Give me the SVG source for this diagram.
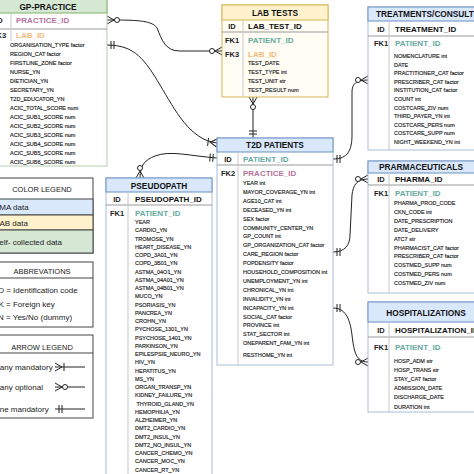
<svg xmlns="http://www.w3.org/2000/svg" width="474" height="474" viewBox="0 0 474 474">
<style>
text{font-family:"Liberation Sans",Arial,sans-serif}
.hdr{font-size:8.3px;font-weight:bold;fill:#111;text-anchor:middle}
.key{font-size:8px;font-weight:bold;fill:#111}
.lbl{font-size:7.5px;font-weight:bold;fill:#222;text-anchor:middle}
.att{font-size:5.5px;fill:#1a1a1a;stroke:#1a1a1a;stroke-width:0.15}
.pid{fill:#67ab9f}.prid{fill:#b5739d}.lid{fill:#f5b97c}
.leg{font-size:8px;fill:#222}
.legh{font-size:7.5px;fill:#222;text-anchor:middle}
.body{fill:#fff;stroke:#a8bcd8;stroke-width:1}
.hb{fill:#dae8fc;stroke:#6c8ebf;stroke-width:1}
.sep{stroke:#999;stroke-width:1}
.col{stroke:#c8c8c8;stroke-width:1}
.lbox{fill:#fff;stroke:#444;stroke-width:1}
.conn{fill:none;stroke:#222;stroke-width:1}
</style>
<defs>
<marker id="mo" viewBox="-16 -6 18 12" refX="0" refY="0" markerWidth="18" markerHeight="12" markerUnits="userSpaceOnUse" orient="auto-start-reverse">
<path d="M0,-4 L-7,0 L0,4" fill="none" stroke="#222"/>
<circle cx="-10" cy="0" r="2.5" fill="#fff" stroke="#222"/>
</marker>
<marker id="om" viewBox="-16 -6 18 12" refX="0" refY="0" markerWidth="18" markerHeight="12" markerUnits="userSpaceOnUse" orient="auto-start-reverse">
<path d="M-4,-4 V4 M-7,-4 V4" fill="none" stroke="#222"/>
</marker>
<marker id="mm" viewBox="-16 -6 18 12" refX="0" refY="0" markerWidth="18" markerHeight="12" markerUnits="userSpaceOnUse" orient="auto-start-reverse">
<path d="M0,-4 L-7,0 L0,4 M-9,-4 V4" fill="none" stroke="#222"/>
</marker>
</defs>

<g id="connectors">
<path class="conn" d="M107,20 C135,20 152,20 157,28 C162,40 165,51 180,51 L222,51" marker-start="url(#mo)" marker-end="url(#mo)"/>
<path class="conn" d="M107,45 C135,45 145,60 160,85 C175,110 190,140 217,143" marker-start="url(#om)" marker-end="url(#mm)"/>
<path class="conn" d="M253,97 L253,138" marker-start="url(#mo)" marker-end="url(#om)"/>
<path class="conn" d="M217,158 C190,156 170,150 155,156 C145,160 140,165 140,178" marker-start="url(#om)" marker-end="url(#mo)"/>
<path class="conn" d="M333,159 C348,159 352,150 352,135 L352,92 C352,84 356,80 368,80" marker-start="url(#om)" marker-end="url(#mo)"/>
<path class="conn" d="M333,252 C345,252 350,245 350,235 L352,195 C353,185 357,179 368,179" marker-start="url(#om)" marker-end="url(#mo)"/>
<path class="conn" d="M333,308 C345,308 350,318 352,335 C354,352 356,362 368,362" marker-start="url(#om)" marker-end="url(#mo)"/>
</g>

<g id="gp-practice">
<rect x="-10" y="-3" width="117" height="169" fill="#fff" stroke="#b7cfae"/>
<rect x="-10" y="-3" width="117" height="16" fill="#d5e8d4" stroke="#82b366"/>
<text class="hdr" x="48" y="10">GP-PRACTICE</text>
<line class="sep" x1="-10" y1="29" x2="107" y2="29"/>
<line class="col" x1="11" y1="13" x2="11" y2="41"/>
<text class="lbl" x="-1" y="23">ID</text>
<text class="key prid" x="16" y="23">PRACTICE_ID</text>
<text class="lbl" x="-1" y="38">FK3</text>
<text class="key lid" x="16" y="38">LAB_ID</text>
<text class="att" x="10" y="47">ORGANISATION_TYPE factor</text>
<text class="att" x="10" y="56">REGION_CAT factor</text>
<text class="att" x="10" y="65">FIRSTLINE_ZONE factor</text>
<text class="att" x="10" y="74">NURSE_YN</text>
<text class="att" x="10" y="83">DIETICIAN_YN</text>
<text class="att" x="10" y="92">SECRETARY_YN</text>
<text class="att" x="10" y="101">T2D_EDUCATOR_YN</text>
<text class="att" x="10" y="110">ACIC_TOTAL_SCORE num</text>
<text class="att" x="10" y="119">ACIC_SUB1_SCORE num</text>
<text class="att" x="10" y="128">ACIC_SUB2_SCORE num</text>
<text class="att" x="10" y="137">ACIC_SUB3_SCORE num</text>
<text class="att" x="10" y="146">ACIC_SUB4_SCORE num</text>
<text class="att" x="10" y="155">ACIC_SUB5_SCORE num</text>
<text class="att" x="10" y="164">ACIC_SUB6_SCORE num</text>
</g>

<g id="lab-tests">
<rect x="222" y="5" width="106" height="92" fill="#fffdf4" stroke="#d6b656"/>
<rect x="222" y="5" width="106" height="15" fill="#fff2cc" stroke="#d6b656"/>
<text class="hdr" x="275" y="16">LAB TESTS</text>
<line class="sep" x1="222" y1="32" x2="328" y2="32"/>
<line class="col" x1="243" y1="20" x2="243" y2="97"/>
<text class="lbl" x="232" y="29">ID</text>
<text class="key" x="248" y="29">LAB_TEST_ID</text>
<text class="lbl" x="232" y="43">FK1</text>
<text class="key pid" x="248" y="43">PATIENT_ID</text>
<text class="lbl" x="232" y="57">FK3</text>
<text class="key lid" x="248" y="57">LAB_ID</text>
<text class="att" x="248" y="65">TEST_DATE</text>
<text class="att" x="248" y="74">TEST_TYPE int</text>
<text class="att" x="248" y="83">TEST_UNIT str</text>
<text class="att" x="248" y="92">TEST_RESULT num</text>
</g>

<g id="t2d-patients">
<rect class="body" x="217" y="138" width="116" height="227"/>
<rect class="hb" x="217" y="138" width="116" height="14"/>
<text class="hdr" x="275" y="148">T2D PATIENTS</text>
<line class="sep" x1="217" y1="165" x2="333" y2="165"/>
<line class="col" x1="238" y1="152" x2="238" y2="365"/>
<text class="lbl" x="228" y="162">ID</text>
<text class="key pid" x="243" y="162">PATIENT_ID</text>
<text class="lbl" x="228" y="176">FK2</text>
<text class="key prid" x="243" y="176">PRACTICE_ID</text>
<text class="att" x="243" y="185">YEAR int</text>
<text class="att" x="243" y="193.9">MAYOR_COVERAGE_YN int</text>
<text class="att" x="243" y="202.8">AGE10_CAT int</text>
<text class="att" x="243" y="211.7">DECEASED_YN int</text>
<text class="att" x="243" y="220.6">SEX factor</text>
<text class="att" x="243" y="229.5">COMMUNITY_CENTER_YN</text>
<text class="att" x="243" y="238.4">GP_COUNT int</text>
<text class="att" x="243" y="247.3">GP_ORGANIZATION_CAT factor</text>
<text class="att" x="243" y="256.2">CARE_REGION factor</text>
<text class="att" x="243" y="265.1">POPDENSITY factor</text>
<text class="att" x="243" y="274">HOUSEHOLD_COMPOSITION int</text>
<text class="att" x="243" y="282.9">UNEMPLOYMENT_YN int</text>
<text class="att" x="243" y="291.8">CHRONICAL_YN int</text>
<text class="att" x="243" y="300.7">INVALIDITY_YN int</text>
<text class="att" x="243" y="309.6">INCAPACITY_YN int</text>
<text class="att" x="243" y="318.5">SOCIAL_CAT factor</text>
<text class="att" x="243" y="327.4">PROVINCE int</text>
<text class="att" x="243" y="336.3">STAT_SECTOR int</text>
<text class="att" x="243" y="345.2">ONEPARENT_FAM_YN int</text>
<text class="att" x="243" y="357">RESTHOME_YN int</text>
</g>

<g id="treatments">
<rect class="body" x="368" y="7" width="120" height="143"/>
<rect class="hb" x="368" y="7" width="120" height="14"/>
<text class="hdr" x="376" y="17" style="text-anchor:start">TREATMENTS/CONSULTS</text>
<line class="sep" x1="368" y1="36" x2="488" y2="36"/>
<line class="col" x1="389" y1="21" x2="389" y2="150"/>
<text class="lbl" x="381" y="32">ID</text>
<text class="key" x="395" y="32">TREATMENT_ID</text>
<text class="lbl" x="381" y="46">FK1</text>
<text class="key pid" x="395" y="46">PATIENT_ID</text>
<text class="att" x="394" y="58">NOMENCLATURE int</text>
<text class="att" x="394" y="66.6">DATE</text>
<text class="att" x="394" y="75.2">PRACTITIONER_CAT factor</text>
<text class="att" x="394" y="83.8">PRESCRIBER_CAT factor</text>
<text class="att" x="394" y="92.4">INSTITUTION_CAT factor</text>
<text class="att" x="394" y="101">COUNT int</text>
<text class="att" x="394" y="109.6">COSTCARE_ZIV num</text>
<text class="att" x="394" y="118.2">THIRD_PAYER_YN int</text>
<text class="att" x="394" y="126.8">COSTCARE_PERS num</text>
<text class="att" x="394" y="135.4">COSTCARE_SUPP num</text>
<text class="att" x="394" y="144">NIGHT_WEEKEND_YN int</text>
</g>

<g id="pharmaceuticals">
<rect class="body" x="368" y="161" width="120" height="132"/>
<rect class="hb" x="368" y="161" width="120" height="12"/>
<text class="hdr" x="421" y="170">PRARMACEUTICALS</text>
<line class="sep" x1="368" y1="185" x2="488" y2="185"/>
<line class="col" x1="389" y1="173" x2="389" y2="293"/>
<text class="lbl" x="381" y="182">ID</text>
<text class="key" x="395" y="182">PHARMA_ID</text>
<text class="lbl" x="381" y="196">FK1</text>
<text class="key pid" x="395" y="196">PATIENT_ID</text>
<text class="att" x="394" y="205">PHARMA_PROD_CODE</text>
<text class="att" x="394" y="213.9">CKN_CODE int</text>
<text class="att" x="394" y="222.8">DATE_PRESCRIPTION</text>
<text class="att" x="394" y="231.7">DATE_DELIVERY</text>
<text class="att" x="394" y="240.6">ATC7 str</text>
<text class="att" x="394" y="249.5">PHARMACIST_CAT factor</text>
<text class="att" x="394" y="258.4">PRESCRIBER_CAT factor</text>
<text class="att" x="394" y="267.3">COSTMED_SUPP num</text>
<text class="att" x="394" y="276.2">COSTMED_PERS num</text>
<text class="att" x="394" y="285.1">COSTMED_ZIV num</text>
</g>

<g id="hospitalizations">
<rect class="body" x="368" y="302" width="120" height="110"/>
<rect class="hb" x="368" y="302" width="120" height="20"/>
<text class="hdr" x="426" y="316">HOSPITALIZATIONS</text>
<line class="sep" x1="368" y1="337" x2="488" y2="337"/>
<line class="col" x1="389" y1="322" x2="389" y2="412"/>
<text class="lbl" x="381" y="333">ID</text>
<text class="key" x="395" y="333">HOSPITALIZATION_ID</text>
<text class="lbl" x="381" y="350">FK1</text>
<text class="key pid" x="395" y="350">PATIENT_ID</text>
<text class="att" x="394" y="363">HOSP_ADM str</text>
<text class="att" x="394" y="372.1">HOSP_TRANS str</text>
<text class="att" x="394" y="381.2">STAY_CAT factor</text>
<text class="att" x="394" y="390.3">ADMISSION_DATE</text>
<text class="att" x="394" y="399.4">DISCHARGE_DATE</text>
<text class="att" x="394" y="408.5">DURATION int</text>
</g>

<g id="pseudopath">
<rect class="body" x="106" y="178" width="106" height="300"/>
<rect class="hb" x="106" y="178" width="106" height="14"/>
<text class="hdr" x="159" y="189">PSEUDOPATH</text>
<line class="sep" x1="106" y1="205" x2="212" y2="205"/>
<line class="col" x1="128" y1="192" x2="128" y2="478"/>
<text class="lbl" x="117" y="202">ID</text>
<text class="key" x="135" y="202">PSEUDOPATH_ID</text>
<text class="lbl" x="117" y="216">FK1</text>
<text class="key pid" x="135" y="216">PATIENT_ID</text>
<text class="att" x="135" y="224">YEAR</text>
<text class="att" x="135" y="232.25">CARDIO_YN</text>
<text class="att" x="135" y="240.5">TROMOSE_YN</text>
<text class="att" x="135" y="248.75">HEART_DISEASE_YN</text>
<text class="att" x="135" y="257">COPD_3A01_YN</text>
<text class="att" x="135" y="265.25">COPD_3B01_YN</text>
<text class="att" x="135" y="273.5">ASTMA_04O1_YN</text>
<text class="att" x="135" y="281.75">ASTMA_04A01_YN</text>
<text class="att" x="135" y="290">ASTMA_04B01_YN</text>
<text class="att" x="135" y="298.25">MUCO_YN</text>
<text class="att" x="135" y="306.5">PSORIASIS_YN</text>
<text class="att" x="135" y="314.75">PANCREA_YN</text>
<text class="att" x="135" y="323">CROHN_YN</text>
<text class="att" x="135" y="331.25">PYCHOSE_1301_YN</text>
<text class="att" x="135" y="339.5">PSYCHOSE_1401_YN</text>
<text class="att" x="135" y="347.75">PARKINSON_YN</text>
<text class="att" x="135" y="356">EPILESPSIE_NEURO_YN</text>
<text class="att" x="135" y="364.25">HIV_YN</text>
<text class="att" x="135" y="372.5">HEPATITUS_YN</text>
<text class="att" x="135" y="380.75">MS_YN</text>
<text class="att" x="135" y="389">ORGAN_TRANSP_YN</text>
<text class="att" x="135" y="397.25">KIDNEY_FAILURE_YN</text>
<text class="att" x="136.5" y="405.5">THYROID_GLAND_YN</text>
<text class="att" x="135" y="413.75">HEMOPHILIA_YN</text>
<text class="att" x="135" y="422">ALZHEIMER_YN</text>
<text class="att" x="135" y="430.25">DMT2_CARDIO_YN</text>
<text class="att" x="135" y="438.5">DMT2_INSUL_YN</text>
<text class="att" x="135" y="446.75">DMT2_NO_INSUL_YN</text>
<text class="att" x="135" y="455">CANCER_CHEMO_YN</text>
<text class="att" x="135" y="463.25">CANCER_MOC_YN</text>
<text class="att" x="135" y="471.5">CANCER_RT_YN</text>
</g>

<g id="color-legend">
<rect class="lbox" x="-10" y="178" width="103" height="75"/>
<rect x="-10" y="199" width="103" height="16" fill="#dae8fc" stroke="#444"/>
<rect x="-10" y="215" width="103" height="15" fill="#fff2cc" stroke="#444"/>
<rect x="-10" y="230" width="103" height="23" fill="#d5e8d4" stroke="#444"/>
<text class="legh" x="42" y="192">COLOR LEGEND</text>
<text class="leg" x="-3" y="210">IMA data</text>
<text class="leg" x="-5" y="226">LAB data</text>
<text class="leg" x="-6" y="245">Self- collected data</text>
</g>

<g id="abbreviations">
<rect class="lbox" x="-10" y="262" width="103" height="65"/>
<line x1="-10" y1="278" x2="93" y2="278" stroke="#444"/>
<text class="legh" x="42" y="274">ABBREVATIONS</text>
<text class="leg" x="-4" y="293">ID = Identification code</text>
<text class="leg" x="-6.4" y="307">FK = Foreign key</text>
<text class="leg" x="-7.3" y="320">YN = Yes/No (dummy)</text>
</g>

<g id="arrow-legend">
<rect class="lbox" x="-10" y="335" width="103" height="83"/>
<line x1="-10" y1="353" x2="93" y2="353" stroke="#444"/>
<text class="legh" x="42" y="350">ARROW LEGEND</text>
<text class="leg" x="-6.9" y="370">Many mandatory</text>
<text class="leg" x="-6.9" y="390">Many optional</text>
<text class="leg" x="-6.5" y="412">One mandatory</text>
<path class="conn" d="M85,367 L55,367" marker-end="url(#mm)"/>
<path class="conn" d="M85,387 L55,387" marker-end="url(#mo)"/>
<path class="conn" d="M85,409 L55,409" marker-end="url(#om)"/>
</g>
</svg>
